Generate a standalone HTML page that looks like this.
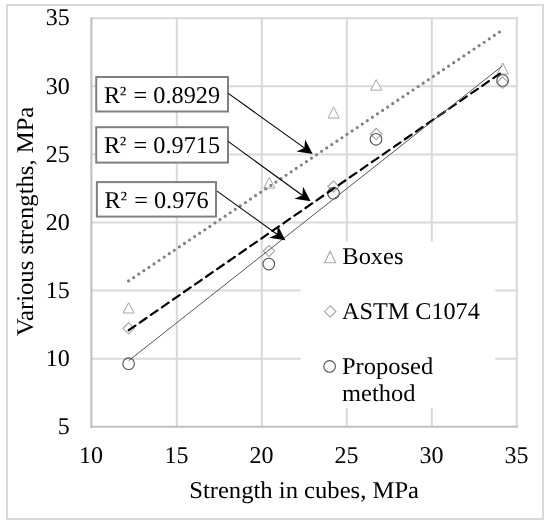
<!DOCTYPE html><html><head><meta charset="utf-8"><style>html,body{margin:0;padding:0;background:#fff;}svg{display:block;}text{font-family:"Liberation Serif", serif;font-size:24px;fill:#000;text-rendering:geometricPrecision;}</style></head><body>
<svg width="550" height="526" viewBox="0 0 550 526">
<rect x="0" y="0" width="550" height="526" fill="#fff"/>
<rect x="7" y="5" width="536" height="514" fill="none" stroke="#d9d9d9" stroke-width="2"/>
<g stroke="#d9d9d9" stroke-width="2"><line x1="91.40" y1="358.67" x2="517.80" y2="358.67"/><line x1="91.40" y1="290.58" x2="517.80" y2="290.58"/><line x1="91.40" y1="222.50" x2="517.80" y2="222.50"/><line x1="91.40" y1="154.41" x2="517.80" y2="154.41"/><line x1="91.40" y1="86.32" x2="517.80" y2="86.32"/><line x1="91.40" y1="18.23" x2="517.80" y2="18.23"/><line x1="176.80" y1="17.23" x2="176.80" y2="426.76"/><line x1="261.80" y1="17.23" x2="261.80" y2="426.76"/><line x1="346.80" y1="17.23" x2="346.80" y2="426.76"/><line x1="431.80" y1="17.23" x2="431.80" y2="426.76"/><line x1="516.80" y1="17.23" x2="516.80" y2="426.76"/></g>
<g stroke="#bfbfbf" stroke-width="2"><line x1="91.40" y1="17.23" x2="91.40" y2="427.76"/><line x1="90.40" y1="426.76" x2="517.80" y2="426.76"/></g>
<text transform="translate(69.70,433.96) scale(1.0,1.0)" text-anchor="end">5</text>
<text transform="translate(69.70,365.87) scale(1.0,1.0)" text-anchor="end">10</text>
<text transform="translate(69.70,297.78) scale(1.0,1.0)" text-anchor="end">15</text>
<text transform="translate(69.70,229.69) scale(1.0,1.0)" text-anchor="end">20</text>
<text transform="translate(69.70,161.61) scale(1.0,1.0)" text-anchor="end">25</text>
<text transform="translate(69.70,93.52) scale(1.0,1.0)" text-anchor="end">30</text>
<text transform="translate(69.70,25.43) scale(1.0,1.0)" text-anchor="end">35</text>
<text transform="translate(91.10,463.20) scale(1.0,1.0)" text-anchor="middle">10</text>
<text transform="translate(176.50,463.20) scale(1.0,1.0)" text-anchor="middle">15</text>
<text transform="translate(261.50,463.20) scale(1.0,1.0)" text-anchor="middle">20</text>
<text transform="translate(346.50,463.20) scale(1.0,1.0)" text-anchor="middle">25</text>
<text transform="translate(431.50,463.20) scale(1.0,1.0)" text-anchor="middle">30</text>
<text transform="translate(516.50,463.20) scale(1.0,1.0)" text-anchor="middle">35</text>
<text transform="translate(304.10,498.40) scale(1.026,1.0)" text-anchor="middle">Strength in cubes, MPa</text>
<text transform="translate(33.30,221.40) rotate(-90) scale(1.027,1.0)" text-anchor="middle">Various strengths, MPa</text>
<rect x="300.5" y="241.6" width="194.8" height="166.4" fill="#fff"/>
<g fill="#fff" stroke="#a6a6a6" stroke-width="1.0"><path d="M128.60,302.70 L134.10,313.00 L123.10,313.00 Z"/><path d="M269.30,177.30 L274.80,188.10 L263.80,188.10 Z"/><path d="M333.60,106.90 L339.10,118.00 L328.10,118.00 Z"/><path d="M376.20,79.60 L381.70,90.20 L370.70,90.20 Z"/><path d="M502.80,63.00 L508.30,74.00 L497.30,74.00 Z"/></g>
<g fill="#fff" stroke="#a6a6a6" stroke-width="1.1"><path d="M128.70,322.60 L134.40,328.30 L128.70,334.00 L123.00,328.30 Z"/><path d="M269.00,245.30 L274.70,251.00 L269.00,256.70 L263.30,251.00 Z"/><path d="M333.50,180.80 L339.20,186.50 L333.50,192.20 L327.80,186.50 Z"/><path d="M376.20,128.40 L381.90,134.10 L376.20,139.80 L370.50,134.10 Z"/><path d="M502.60,76.90 L508.30,82.60 L502.60,88.30 L496.90,82.60 Z"/></g>
<g fill="none" stroke="#555" stroke-width="1.15"><circle cx="128.6" cy="363.7" r="5.8"/><circle cx="268.8" cy="264.0" r="5.8"/><circle cx="333.5" cy="193.2" r="5.8"/><circle cx="376.0" cy="139.3" r="5.8"/><circle cx="502.6" cy="80.5" r="5.8"/></g>
<line x1="128.6" y1="280.94" x2="500.23" y2="31.47" stroke="#808080" stroke-width="3.2" stroke-linecap="round" stroke-dasharray="0 6.1178"/>
<line x1="128.75" y1="330.22" x2="501.0" y2="72.82" stroke="#000" stroke-width="2.2" stroke-linecap="round" stroke-dasharray="8.1 5.33"/>
<line x1="128.7" y1="360.66" x2="502.3" y2="65.93" stroke="#555" stroke-width="1.0"/>
<path d="M330.10,251.20 L335.60,262.70 L324.60,262.70 Z" fill="#fff" stroke="#a6a6a6" stroke-width="1.1"/>
<path d="M330.20,305.70 L335.90,311.40 L330.20,317.10 L324.50,311.40 Z" fill="#fff" stroke="#a6a6a6" stroke-width="1.1"/>
<circle cx="329.6" cy="366.4" r="5.8" fill="none" stroke="#555" stroke-width="1.15"/>
<text transform="translate(342.30,263.60) scale(1.02,1.0)">Boxes</text>
<text transform="translate(342.00,318.60) scale(1.008,1.0)">ASTM C1074</text>
<text transform="translate(342.00,373.60) scale(1.02,1.0)">Proposed</text>
<text transform="translate(342.00,400.60) scale(1.02,1.0)">method</text>
<rect x="96.25" y="77.00" width="131.75" height="34.50" fill="#fff" stroke="#808080" stroke-width="2"/>
<text transform="translate(103.95,102.60) scale(1.012,1.0)">R<tspan dx="-0.4" dy="-1.6" style="font-size:21.6px">²</tspan><tspan dx="1.12" dy="1.6"> = 0.8929</tspan></text>
<line x1="228.3" y1="93.4" x2="304.33" y2="147.90" stroke="#000" stroke-width="1.1"/>
<path d="M312.7,153.9 L296.52,151.41 L304.33,147.90 L305.15,139.38 Z" fill="#000"/>
<rect x="96.25" y="127.20" width="131.75" height="35.40" fill="#fff" stroke="#808080" stroke-width="2"/>
<text transform="translate(103.95,152.80) scale(1.012,1.0)">R<tspan dx="-0.4" dy="-1.6" style="font-size:21.6px">²</tspan><tspan dx="1.12" dy="1.6"> = 0.9715</tspan></text>
<line x1="228.1" y1="141.4" x2="302.27" y2="195.25" stroke="#000" stroke-width="1.1"/>
<path d="M310.6,201.3 L294.44,198.71 L302.27,195.25 L303.13,186.73 Z" fill="#000"/>
<rect x="96.90" y="182.10" width="119.10" height="34.50" fill="#fff" stroke="#808080" stroke-width="2"/>
<text transform="translate(104.60,207.70) scale(1.012,1.0)">R<tspan dx="-0.4" dy="-1.6" style="font-size:21.6px">²</tspan><tspan dx="1.12" dy="1.6"> = 0.976</tspan></text>
<line x1="217.1" y1="191.1" x2="277.04" y2="234.28" stroke="#000" stroke-width="1.1"/>
<path d="M285.4,240.3 L269.23,237.77 L277.04,234.28 L277.88,225.76 Z" fill="#000"/>
</svg></body></html>
